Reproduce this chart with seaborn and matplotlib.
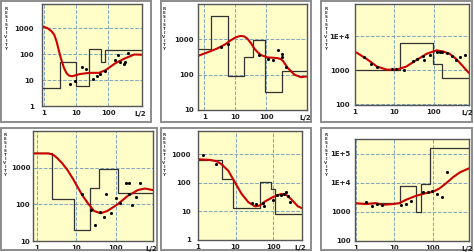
import numpy as np
import pandas as pd
import seaborn as sns
import matplotlib.pyplot as plt
from matplotlib.patches import Rectangle

sns.set_style('white')
plt.rcParams['font.family'] = ['DejaVu Sans']

# ---- panel 1 ----
p1_curve_x = [0.87, 1.3, 1.7, 2.1, 2.5, 3.0, 3.5, 4.2, 5.0, 6.0, 7.5, 10, 13, 26, 52, 83, 120, 166, 330, 660, 1150]
p1_curve_y = [1200, 1000, 780, 560, 300, 120, 60, 30, 19, 15, 14, 15.5, 17, 19, 19, 24, 33, 44, 68, 97, 95]
p1_step_x = [0.87, 3.2, 10, 25, 62, 83, 1150]
p1_step_y = [4.8, 50, 6, 165, 50, 150, 150]
p1_dot_x = [6.5, 9.1, 15, 21, 35, 44, 55, 83, 166, 209, 229, 309, 330, 417]
p1_dot_y = [6.8, 9.2, 33, 26, 10.6, 14, 17, 22, 62, 91, 51, 40, 51, 107]

# ---- panel 2 ----
p2_curve_x = [0.63, 1.3, 2.5, 4.5, 7, 9.5, 12.5, 15.6, 20, 25, 33, 42, 55, 69, 113, 180, 238, 300, 350, 500, 820, 1340, 2100]
p2_curve_y = [340, 430, 540, 700, 920, 1090, 1200, 1250, 1200, 1040, 760, 540, 420, 357, 307, 300, 293, 275, 245, 156, 100, 85, 89]
p2_step_x = [0.63, 1.7, 5.8, 20, 37, 93, 330, 2100]
p2_step_y = [540, 4500, 94, 325, 940, 32, 125, 125]
p2_dot_x = [3.5, 5.9, 61, 113, 166, 238, 325, 325, 425]
p2_dot_y = [600, 750, 357, 275, 263, 510, 380, 325, 165]

# ---- panel 3 ----
p3_curve_x = [1.07, 2, 3.6, 6.4, 11.4, 20, 37, 66, 117, 173, 250, 370, 550, 775]
p3_curve_y = [3400, 2150, 1300, 1050, 1050, 1300, 2050, 3100, 3900, 3600, 3100, 2150, 1300, 830]
p3_step_x = [1.07, 14, 96, 165, 775]
p3_step_y = [1000, 6600, 1580, 590, 590]
p3_dot_x = [1.65, 2.5, 3.7, 8.6, 11, 17, 29, 38, 52, 56, 79, 117, 142, 165, 209, 280, 372, 470, 605]
p3_dot_y = [2460, 1570, 1250, 1120, 1120, 1040, 1840, 2150, 2700, 1970, 2900, 3460, 3400, 3460, 3240, 2700, 2060, 2460, 2900]

# ---- panel 4 ----
p4_curve_x = [0.8, 1.95, 2.6, 3.2, 4.3, 5.8, 8, 10.4, 14, 19, 28, 41, 61, 110, 200, 360, 540, 870]
p4_curve_y = [2450, 2450, 2250, 1870, 1350, 900, 520, 316, 180, 112, 66, 57, 66, 100, 170, 245, 270, 245]
p4_step_x = [0.8, 2.4, 8.5, 22, 37, 115, 870]
p4_step_y = [2450, 142, 20, 285, 940, 208, 208]
p4_dot_x = [14, 24, 30, 39, 50, 55, 74, 100, 130, 180, 220, 220, 255, 320, 400]
p4_dot_y = [190, 71, 27, 62, 46, 190, 57, 150, 112, 375, 390, 190, 94, 160, 375]

# ---- panel 5 ----
p5_curve_x = [1.0, 2.2, 3.2, 4.2, 6.4, 9.6, 14.5, 22, 33, 44, 60, 100, 166, 225, 310, 460, 590]
p5_curve_y = [670, 630, 560, 450, 265, 105, 41, 21, 15, 16, 22, 32, 41, 38, 26, 15, 13]
p5_step_x = [1.0, 4.3, 8.7, 44, 87, 115, 590]
p5_step_y = [630, 135, 13, 110, 61, 8.3, 8.3]
p5_dot_x = [1.4, 3.1, 28, 36, 54, 57, 100, 130, 160, 195, 215, 250, 275]
p5_dot_y = [930, 450, 20, 18.5, 20, 15, 26, 38, 38, 41, 47, 36, 22]

# ---- panel 6 ----
p6_curve_x = [0.95, 1.8, 3.3, 5, 9.1, 13.5, 20, 37, 68, 100, 148, 224, 331, 500, 870]
p6_curve_y = [2000, 1850, 2000, 1750, 1850, 2000, 2600, 3600, 4450, 4900, 6400, 9900, 15500, 23000, 32000]
p6_step_x = [0.95, 14, 37, 50, 82, 870]
p6_step_y = [2000, 7950, 950, 9100, 158000, 158000]
p6_dot_x = [1.8, 2.6, 3.5, 4.7, 15, 20, 27, 55, 74, 96, 127, 174, 235]
p6_dot_y = [2200, 1600, 1850, 1700, 1700, 1850, 2400, 4700, 4900, 5350, 4100, 3300, 24500]

panels = [
    (p1_curve_x, p1_curve_y, p1_step_x, p1_step_y, p1_dot_x, p1_dot_y),
    (p2_curve_x, p2_curve_y, p2_step_x, p2_step_y, p2_dot_x, p2_dot_y),
    (p3_curve_x, p3_curve_y, p3_step_x, p3_step_y, p3_dot_x, p3_dot_y),
    (p4_curve_x, p4_curve_y, p4_step_x, p4_step_y, p4_dot_x, p4_dot_y),
    (p5_curve_x, p5_curve_y, p5_step_x, p5_step_y, p5_dot_x, p5_dot_y),
    (p6_curve_x, p6_curve_y, p6_step_x, p6_step_y, p6_dot_x, p6_dot_y),
]

x_limits = [(0.87, 1150), (0.63, 2100), (1.07, 775), (0.8, 870), (1.0, 590), (0.95, 870)]
y_limits = [(1, 8600), (10, 1e4), (95, 9.1e4), (10, 1e4), (1.05, 6500), (98, 3.3e5)]
x_ticks = [1, 10, 100]
x_tick_labels = ['1', '10', '100']
y_ticks = [
    [1, 10, 100, 1000],
    [10, 100, 1000],
    [100, 1000, 1e4],
    [10, 100, 1000],
    [1, 10, 100, 1000],
    [100, 1000, 1e4, 1e5],
]
y_tick_labels = [
    ['1', '10', '100', '1000'],
    ['10', '100', '1000'],
    ['100', '1000', '1E+4'],
    ['10', '100', '1000'],
    ['1', '10', '100', '1000'],
    ['100', '1000', '1E+4', '1E+5'],
]

# axes boxes in pixels: left, right, top, bottom
W, H = 474, 252
ax_px = [(42, 142, 4, 106), (198, 307, 4, 110), (355, 469, 4, 105),
         (33, 153, 131, 241), (198, 302, 131, 240), (355, 469, 139, 241)]
frame_px = [(1, 151, 1, 122), (161, 311, 1, 122), (321, 472, 1, 122),
            (1, 157, 128, 250), (161, 311, 128, 250), (321, 472, 128, 250)]
ylab_px = [(6, 7), (164, 7), (326, 7), (5, 133), (164, 133), (326, 133)]
ytick_pad = [6, 3, 4, 2, 5, 3]

fig = plt.figure(figsize=(W / 100, H / 100), dpi=100)

for fx0, fx1, fy0, fy1 in frame_px:
    fig.add_artist(Rectangle((fx0 / W, 1 - fy1 / H), (fx1 - fx0) / W, (fy1 - fy0) / H,
                             transform=fig.transFigure, fill=False,
                             edgecolor='#8c8c8c', lw=1.4))

for i, (cx, cy, sx, sy, dx, dy) in enumerate(panels):
    l, r, t, b = ax_px[i]
    ax = fig.add_axes([l / W, 1 - b / H, (r - l) / W, (b - t) / H])
    ax.set_facecolor('#FFFDC8')
    ax.set_xscale('log')
    ax.set_yscale('log')

    sns.lineplot(x=sx, y=sy, ax=ax, color='#333333', lw=0.9, drawstyle='steps-post')
    sns.lineplot(x=cx, y=cy, ax=ax, color='#CC0000', lw=1.5)
    sns.scatterplot(x=dx, y=dy, ax=ax, color='black', s=5, linewidth=0, zorder=4)

    ax.set_xlim(*x_limits[i])
    ax.set_ylim(*y_limits[i])
    ax.set_xticks(x_ticks)
    ax.set_xticklabels(x_tick_labels)
    ax.set_yticks(y_ticks[i])
    ax.set_yticklabels(y_tick_labels[i])
    ax.minorticks_off()
    ax.tick_params(length=0, labelsize=5, labelcolor='#222222')
    ax.tick_params(axis='x', pad=3)
    ax.tick_params(axis='y', pad=ytick_pad[i])
    for lab in ax.get_xticklabels() + ax.get_yticklabels():
        lab.set_fontweight('bold')
    ax.grid(True, color='#7FA6BE', linestyle='--', linewidth=0.7)
    for sp in ax.spines.values():
        sp.set_color('#555555')
        sp.set_linewidth(1.0)
    ax.set_xlabel('')
    ax.set_ylabel('')

    # L/2 label at right end of x tick row
    fig.text((r - 2) / W, 1 - (b + 8) / H, 'L/2', fontsize=5, fontweight='bold',
             ha='center', va='center', color='#222222')
    # stacked RESISTIVITY label
    yx, yy = ylab_px[i]
    fig.text(yx / W, 1 - yy / H, '\n'.join('RESISTIVITY'), fontsize=3,
             fontweight='bold', linespacing=1.0, ha='center', va='top', color='#333333')

fig.savefig('out.png', dpi=100)
